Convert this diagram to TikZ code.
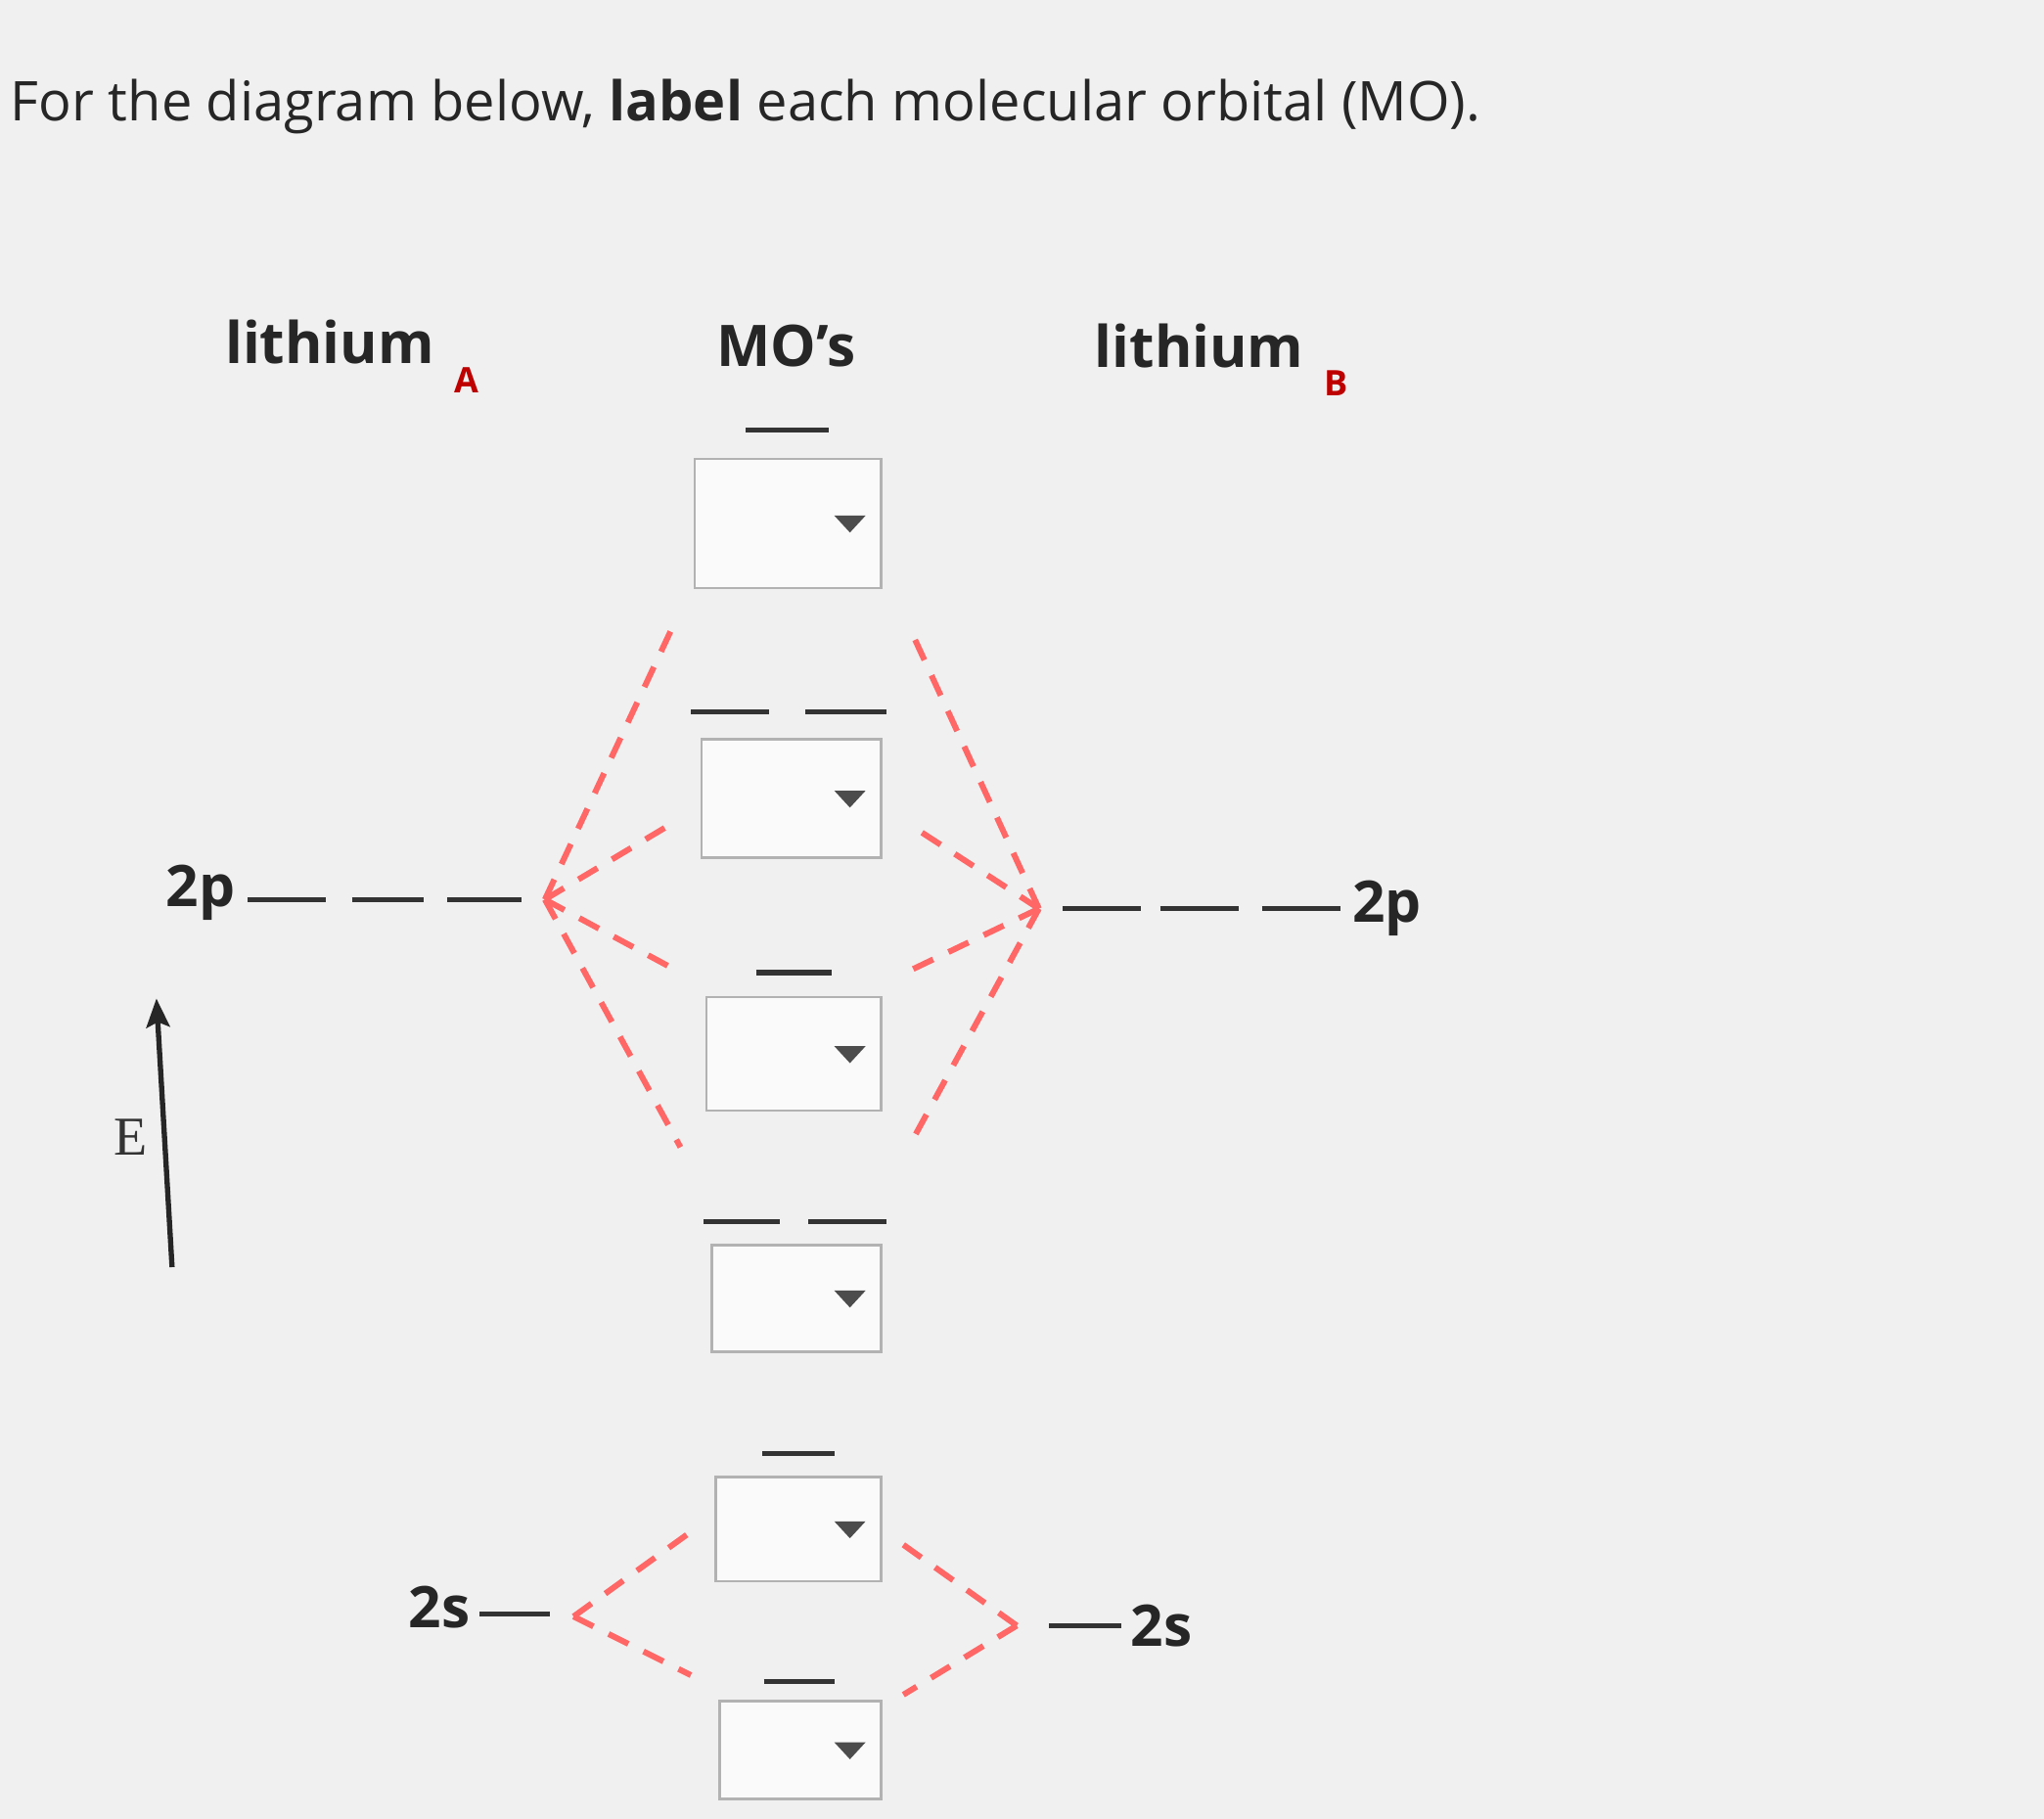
\documentclass[tikz,border=0pt]{standalone}
\usepackage{fontspec}
\setmainfont{Open Sans}
\newfontfamily\efont{Liberation Serif}
\usetikzlibrary{calc,arrows.meta}
\begin{document}
\begin{tikzpicture}[x=1pt,y=-1pt,
  lvl/.style={line width=4pt,black!80},
  rd/.style={draw=red!60!white,line width=4.5pt,dash pattern=on 17pt off 13pt},
  ddbox/.style={draw=black!30,fill=white!96!gray,line width=1.8pt},
  lab/.style={font=\fontsize{44}{46}\selectfont\bfseries,text=black!85},
  sub/.style={font=\fontsize{27}{28}\selectfont\bfseries,text=red!75!black}]
\fill[gray!12] (0,0) rectangle (1568,1395);
\useasboundingbox (0,0) rectangle (1568,1395);
\node[anchor=west,font=\fontsize{42}{46}\selectfont,text=black!85,inner sep=0pt] (t) at (8,82) {For the diagram below, \textbf{label} each molecular orbital (MO).};
\node[lab] (la) at (253,262) {lithium};
\node[sub] (sa) at (358,292) {A};
\node[lab] (mo) at (603,265) {MO\char"27 s};
\node[lab] (lb) at (920,265) {lithium};
\node[sub] (sb) at (1025,294) {B};
% MO levels and boxes
\draw[lvl] (572,330) -- (636,330);
\draw[lvl] (530,546) -- (590,546); \draw[lvl] (618,546) -- (680,546);
\draw[lvl] (580,746) -- (638,746);
\draw[lvl] (540,937) -- (598,937); \draw[lvl] (620,937) -- (680,937);
\draw[lvl] (585,1115) -- (640,1115);
\draw[lvl] (586,1290) -- (640,1290);
\foreach \n/\xa/\ya/\yb in {b1/533/352/451,b2/538/567/658,b3/542/765/852,b4/546/955/1037,b5/549/1133/1213,b6/552/1305/1380}{
  \draw[ddbox] (\xa,\ya) rectangle (676,\yb);
  \fill[black!70] ($(652,{(\ya+\yb)/2})+(-12,-6)$) -- ++(24,0) -- ++(-12,13) -- cycle;
}
% atomic levels
\node[lab,anchor=east] (p2a) at (184,685) {2p};
\draw[lvl] (190,690) -- (250,690); \draw[lvl] (270,690) -- (325,690); \draw[lvl] (343,690) -- (400,690);
\node[lab,anchor=west] (p2b) at (1034,697) {2p};
\draw[lvl] (815,697) -- (875,697); \draw[lvl] (890,697) -- (950,697); \draw[lvl] (968,697) -- (1028,697);
\node[lab,anchor=east] (s2a) at (364,1233) {2s};
\draw[lvl] (368,1238) -- (422,1238);
\node[lab,anchor=west] (s2b) at (864,1247) {2s};
\draw[lvl] (805,1247) -- (860,1247);
% E axis
\coordinate (e0) at (132,972); \coordinate (e1) at (120,766);
\draw[line width=4pt,black!85,-{Stealth[length=22pt,width=18pt,inset=4pt]}] (e0) -- (e1);
\node[font=\fontsize{42}{44}\selectfont\efont,text=black!80] (E) at (100,872) {E};
% red dashed connectors
\coordinate (hl) at (418,690); \coordinate (hr) at (797,697);
\coordinate (sl) at (440,1240); \coordinate (sr) at (780,1247);
\foreach \p in {(515,483),(515,632),(520,745),(522,880)} \draw[rd] (hl) -- \p;
\foreach \p in {(697,480),(697,632),(697,745),(697,880)} \draw[rd] (hr) -- \p;
\foreach \p in {(530,1175),(530,1285)} \draw[rd] (sl) -- \p;
\foreach \p in {(693,1185),(693,1300)} \draw[rd] (sr) -- \p;
\end{tikzpicture}
\end{document}
